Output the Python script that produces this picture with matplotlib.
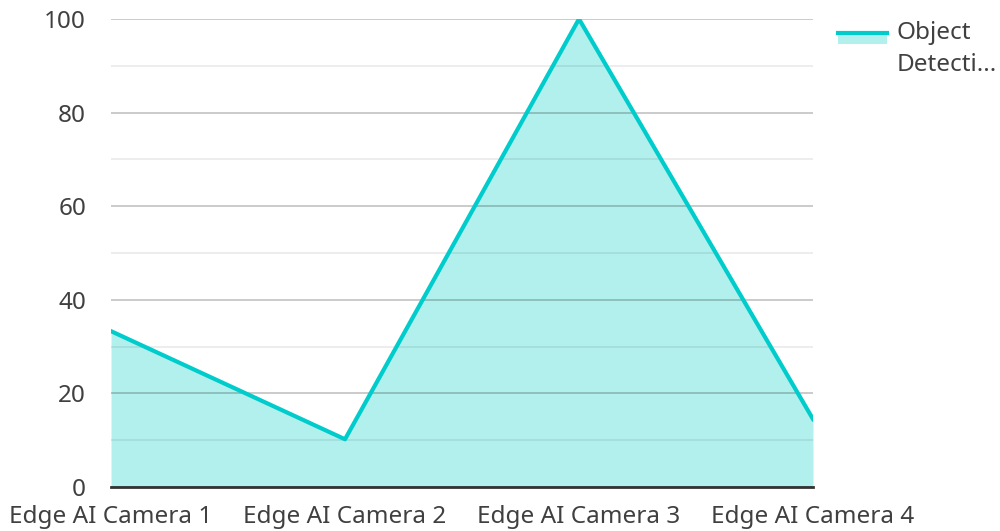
import matplotlib.pyplot as plt
from matplotlib.lines import Line2D
from matplotlib.patches import Rectangle

plt.rcParams['font.family'] = ['Noto Sans', 'DejaVu Sans']

categories = ["Edge AI Camera 1", "Edge AI Camera 2", "Edge AI Camera 3", "Edge AI Camera 4"]
values = [33.3, 10.2, 100, 14.5]
legend_lines = ["Object", "Detecti..."]

line_color = "#00cccc"
fill_color = "#b2f0ee"
text_color = "#404040"
font_size = 17.5

W, H = 1000, 531

fig = plt.figure(figsize=(W / 100, H / 100), dpi=100)
ax = fig.add_axes([111 / W, 1 - 487 / H, 702 / W, 468 / H])

x = list(range(len(categories)))
ax.fill_between(x, values, 0, color=fill_color, linewidth=0, zorder=1)
ax.plot(x, values, color=line_color, linewidth=3, zorder=3)

ax.set_xlim(0, len(categories) - 1)
ax.set_ylim(0, 100)
ax.set_yticks([0, 20, 40, 60, 80, 100])
ax.set_yticks([10, 30, 50, 70, 90], minor=True)
ax.grid(axis="y", which="major", color="#000000", alpha=0.22, linewidth=1.3, zorder=2)
ax.grid(axis="y", which="minor", color="#000000", alpha=0.08, linewidth=1.3, zorder=2)
ax.set_axisbelow(False)

ax.set_xticks(x)
ax.set_xticklabels(categories)
for spine in ["top", "right", "left"]:
    ax.spines[spine].set_visible(False)
ax.spines["bottom"].set_color("#333333")
ax.spines["bottom"].set_linewidth(2)
ax.spines["bottom"].set_zorder(4)
ax.tick_params(axis="both", which="both", length=0, labelsize=font_size, colors=text_color)
ax.tick_params(axis="y", pad=18)
ax.tick_params(axis="x", pad=13)

# legend drawn by hand so the swatch sits beside the first line of the label
fig.add_artist(Rectangle((838 / W, 1 - 44 / H), 49 / W, 12 / H,
                         transform=fig.transFigure, facecolor=fill_color, edgecolor="none"))
fig.add_artist(Line2D([838 / W, 887 / W], [1 - 33 / H] * 2,
                      transform=fig.transFigure, color=line_color, linewidth=3))
for i, txt in enumerate(legend_lines):
    fig.text(897 / W, 1 - (33 + 32 * i) / H, txt, fontsize=font_size,
             color=text_color, va="center", ha="left")

fig.savefig("out.png", dpi=100)
